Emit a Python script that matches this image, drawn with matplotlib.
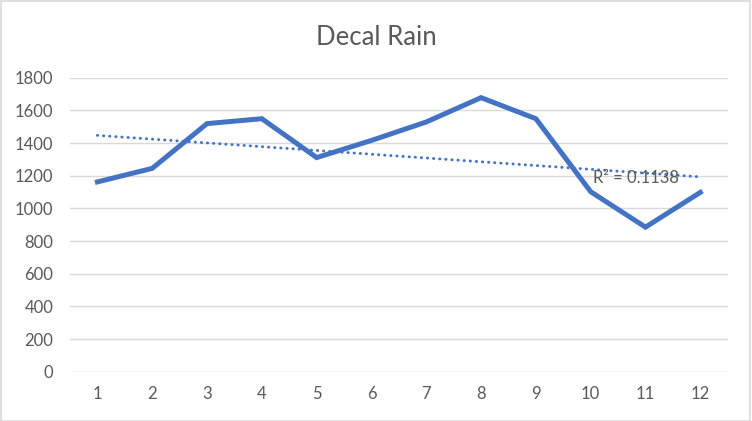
import matplotlib.pyplot as plt
from matplotlib.patches import Rectangle

# data
months = [1, 2, 3, 4, 5, 6, 7, 8, 9, 10, 11, 12]
rain = [1162, 1245, 1519, 1549, 1311, 1416, 1529, 1678, 1549, 1102, 885, 1098]
y_ticks = [0, 200, 400, 600, 800, 1000, 1200, 1400, 1600, 1800]
title = 'Decal Rain'

# linear trendline as shown in the chart (end points + label)
trend_x = [1, 12]
trend_y = [1447, 1193]
r2_label = 'R² = 0.1138'

plt.rcParams['font.family'] = ['Lato', 'DejaVu Sans']

fig = plt.figure(figsize=(7.52, 4.21), dpi=100)
ax = fig.add_axes([0.0931, 0.1171, 0.8746, 0.6983])

ax.plot(trend_x, trend_y, color='#4472C4', linewidth=2.1, linestyle=(0, (0.1, 2.0)),
        dash_capstyle='round', zorder=3)
ax.plot(months, rain, color='#4472C4', linewidth=3.6, solid_joinstyle='miter', zorder=4)

ax.text(10.05, 1186, r2_label, color='#595959', fontsize=12,
        ha='left', va='center', zorder=5)

ax.set_xlim(0.5, 12.5)
ax.set_ylim(0, 1800)
ax.set_xticks(months)
ax.set_yticks(y_ticks)
ax.yaxis.grid(True, color='#D9D9D9', linewidth=1)
ax.set_axisbelow(True)
for s in ax.spines.values():
    s.set_visible(False)
ax.tick_params(axis='both', length=0, labelsize=12, labelcolor='#595959')
ax.tick_params(axis='y', pad=12)
ax.tick_params(axis='x', pad=10)

fig.text(0.5, 0.91, title, ha='center', va='center', fontsize=18.5, color='#595959')

# light border around the chart area
fig.patches.append(Rectangle((0.001, 0.001), 0.997, 0.996, transform=fig.transFigure,
                             fill=False, edgecolor='#D9D9D9', linewidth=1.2))

plt.savefig('out.png')
